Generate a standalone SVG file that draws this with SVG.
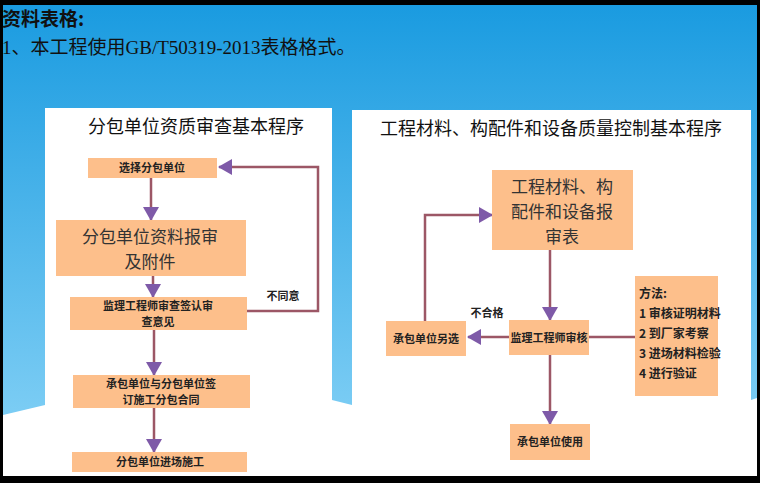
<svg xmlns="http://www.w3.org/2000/svg" width="760" height="483" viewBox="0 0 760 483">
<defs>
<linearGradient id="bg" x1="0" y1="0" x2="0" y2="1"><stop offset="0" stop-color="#1A9BE0"/><stop offset="1" stop-color="#8AD4F7"/></linearGradient>
<marker id="ah" markerWidth="16" markerHeight="16" refX="13" refY="8" orient="auto" markerUnits="userSpaceOnUse"><path d="M0,0 L14,8 L0,16 Z" fill="#7E5AA8"/></marker>
<style>
.box{fill:#FDBF8B}
.ln{stroke:#9C5766;stroke-width:2.5;fill:none;marker-end:url(#ah)}
.ln2{stroke:#9C5766;stroke-width:2.5;fill:none}
.b{font-family:"Noto Sans CJK SC",sans-serif;font-weight:bold;font-size:11px;fill:#222;text-anchor:middle}
.s{text-anchor:start;font-size:12px}
.l{font-family:"Noto Sans CJK SC",sans-serif;font-size:17px;fill:#333;text-anchor:middle}
.t{font-family:"Noto Sans CJK SC",sans-serif;font-size:18px;fill:#111}
</style>
</defs>
<rect width="760" height="483" fill="#000"/>
<rect x="3" y="5" width="754" height="471" fill="url(#bg)"/>
<path d="M3,415 L45,405 L45,476 L3,476 Z" fill="#fff"/>
<path d="M332,400 L352,405 L352,476 L332,476 Z" fill="#fff"/>
<path d="M751,400 L757,398 L757,476 L751,476 Z" fill="#fff"/>
<text x="2" y="26" style="font-family:'Noto Sans CJK SC',serif;font-weight:bold;font-size:19px;fill:#111">资料表格:</text>
<text x="2" y="54" style="font-family:'Liberation Serif','Noto Sans CJK SC',serif;font-size:19px;fill:#111">1、本工程使用GB/T50319-2013表格格式。</text>
<g id="left-panel">
<rect x="45" y="108" width="287" height="368" fill="#fff"/>
<text x="196" y="133" class="t" text-anchor="middle">分包单位资质审查基本程序</text>
</g>
<g id="right-panel">
<rect x="352" y="110" width="399" height="366" fill="#fff"/>
<text x="551" y="135" class="t" text-anchor="middle">工程材料、构配件和设备质量控制基本程序</text>
</g>
<g id="connectors">
<path class="ln" d="M151,178 V220"/>
<path class="ln" d="M153,276 V297"/>
<path class="ln" d="M247,311 H318 V167 H219"/>
<path class="ln" d="M154,330 V375"/>
<path class="ln" d="M154,408 V452"/>
<path class="ln" d="M550,250 V320"/>
<path class="ln" d="M509,337 H468"/>
<path class="ln" d="M425,321 V215 H492"/>
<path class="ln2" d="M589,337 H635"/>
<path class="ln" d="M550,355 V424"/>
<text x="283" y="300" class="b" font-size="13">不同意</text>
<text x="487" y="317" class="b" font-size="13">不合格</text>
</g>
<g id="n1"><rect class="box" x="88" y="158" width="129" height="20"/><text x="152" y="172" class="b">选择分包单位</text></g>
<g id="n2"><rect class="box" x="56" y="220" width="190" height="56"/><text x="150" y="243" class="l">分包单位资料报审</text><text x="150" y="268" class="l">及附件</text></g>
<g id="n3"><rect class="box" x="70" y="297" width="177" height="33"/><text x="158" y="310" class="b">监理工程师审查签认审</text><text x="158" y="326" class="b">查意见</text></g>
<g id="n4"><rect class="box" x="73" y="375" width="177" height="33"/><text x="161" y="388" class="b">承包单位与分包单位签</text><text x="161" y="404" class="b">订施工分包合同</text></g>
<g id="n5"><rect class="box" x="72" y="452" width="175" height="20"/><text x="160" y="466" class="b">分包单位进场施工</text></g>
<g id="nA"><rect class="box" x="492" y="170" width="141" height="80"/><text x="562" y="193" class="l">工程材料、构</text><text x="562" y="218" class="l">配件和设备报</text><text x="562" y="243" class="l">审表</text></g>
<g id="nB"><rect class="box" x="509" y="320" width="80" height="35"/><text x="549" y="342" class="b">监理工程师审核</text></g>
<g id="nC"><rect class="box" x="386" y="321" width="80" height="35"/><text x="426" y="343" class="b">承包单位另选</text></g>
<g id="nD"><rect class="box" x="635" y="276" width="83" height="120"/>
<text x="639" y="298" class="b s">方法:</text>
<text x="639" y="318" class="b s">1 审核证明材料</text>
<text x="639" y="338" class="b s">2 到厂家考察</text>
<text x="639" y="358" class="b s">3 进场材料检验</text>
<text x="639" y="378" class="b s">4 进行验证</text></g>
<g id="nE"><rect class="box" x="510" y="424" width="80" height="36"/><text x="550" y="446" class="b">承包单位使用</text></g>
</svg>
